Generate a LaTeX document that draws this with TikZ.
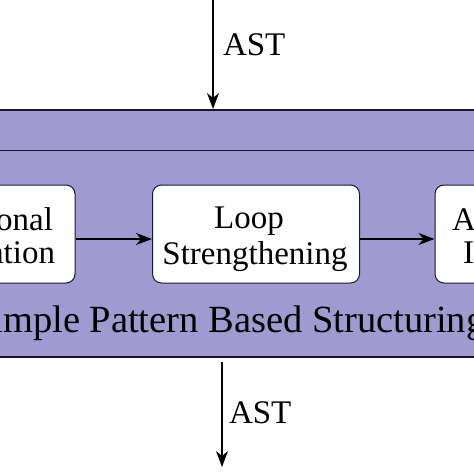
\documentclass[tikz,border=0pt]{standalone}
\usepackage{fontspec}
\setmainfont{Liberation Serif}
\usetikzlibrary{arrows.meta}
\definecolor{bandfill}{RGB}{159,155,209}
\definecolor{bandline}{RGB}{22,22,52}
\begin{document}
\begin{tikzpicture}[x=1pt,y=-1pt,
  font=\fontsize{33}{38}\selectfont,
  txt/.style={inner sep=0pt, outer sep=0pt},
  titletxt/.style={inner sep=0pt, outer sep=0pt, font=\fontsize{38.5}{44}\selectfont},
  stepbox/.style={draw=bandline, fill=white, rounded corners=9pt, line width=1pt,
    minimum width=207pt, minimum height=98pt, inner sep=0pt},
  flow/.style={-{Stealth[length=16pt,width=12pt,inset=5pt]}, line width=1.2pt},
  band/.style={draw=bandline, line width=1.6pt}]
\useasboundingbox (0,0) rectangle (474,474);
\clip (0,0) rectangle (474,474);
% band
\fill[bandfill] (-5,110) rectangle (480,357);
\coordinate (bl1) at (-5,110);   \coordinate (br1) at (480,110);
\coordinate (bl2) at (-5,150.5); \coordinate (br2) at (480,150.5);
\coordinate (bl3) at (-5,357);   \coordinate (br3) at (480,357);
\draw[band] (bl1) -- (br1);
\draw[band] (bl2) -- (br2);
\draw[band] (bl3) -- (br3);
% boxes
\node[stepbox] (cond) at (-28.5,234) {};
\node[stepbox] (loop) at (256,234) {};
\node[stepbox] (abs) at (538.5,234) {};
% box texts
\node[txt, anchor=base east] (c1) at (53,230) {onal};
\node[txt, anchor=base east] (c2) at (55,263) {ation};
\node[txt, anchor=base] (l1) at (249,228) {Loop};
\node[txt, anchor=base] (l2) at (255,264) {Strengthening};
\node[txt, anchor=base west] (a1) at (452,230) {A};
\node[txt, anchor=base west] (a2) at (463,263) {I};
% connectors
\draw[flow] ([yshift=-5pt]cond.east) -- ([yshift=-5pt]loop.west);
\draw[flow] ([yshift=-5pt]loop.east) -- ([yshift=-5pt]abs.west);
% band title
\node[titletxt, anchor=base west] (title) at (-29,332) {Simple Pattern Based Structuring};
% input / output
\coordinate (in0) at (213,-2);
\coordinate (in1) at (213,109);
\draw[flow] (in0) -- (in1);
\node[txt, anchor=base west] (ast1) at (223,55) {AST};
\coordinate (out0) at (222,362);
\coordinate (out1) at (222,467);
\draw[flow] (out0) -- (out1);
\node[txt, anchor=base west] (ast2) at (229,423) {AST};
\end{tikzpicture}
\end{document}
